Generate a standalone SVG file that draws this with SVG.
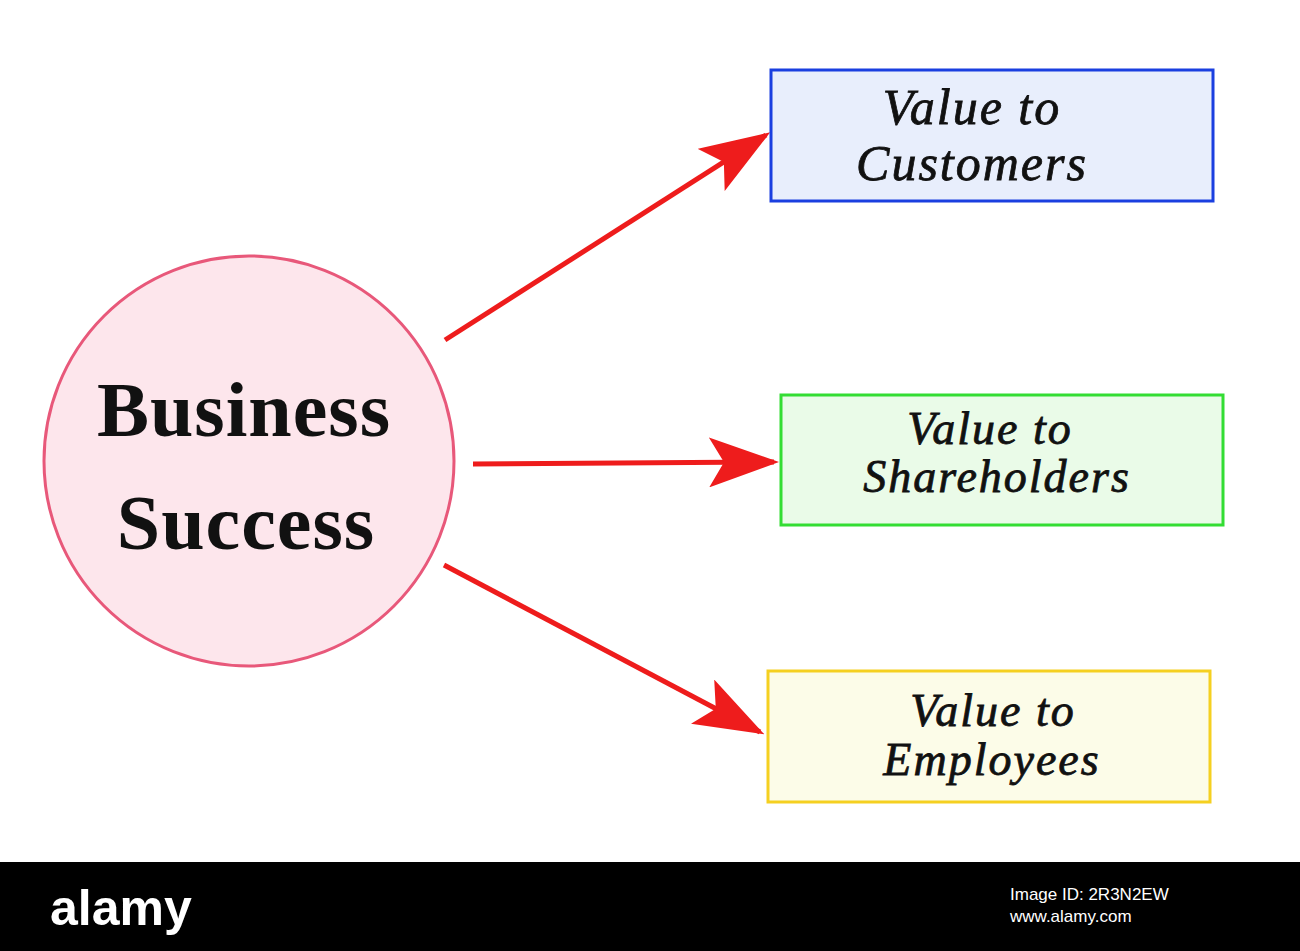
<svg xmlns="http://www.w3.org/2000/svg" width="1300" height="951" viewBox="0 0 1300 951">
<style>
.lbl{font-family:"Liberation Serif",serif;font-style:italic;font-size:50px;fill:#111;text-anchor:middle;letter-spacing:2px;stroke:#111;stroke-width:0.8}
.sm{font-size:46px}
.big{font-family:"Liberation Serif",serif;font-weight:bold;font-size:78px;fill:#111;text-anchor:middle;letter-spacing:1px}
.arr{stroke:#ee1c1c;stroke-width:5;fill:none;marker-end:url(#ah)}
</style>
<defs>
<marker id="ah" markerWidth="14" markerHeight="10" refX="13" refY="5" orient="auto" markerUnits="strokeWidth" viewBox="0 0 14 10">
<path d="M0,0 L14,5 L0,10 L3,5 Z" fill="#ee1c1c"/>
</marker>
</defs>
<rect width="1300" height="951" fill="#fff"/>
<g id="connectors">
<line class="arr" x1="445" y1="340" x2="766" y2="135"/>
<line class="arr" x1="473" y1="464" x2="774" y2="462"/>
<line class="arr" x1="444" y1="565" x2="760" y2="732"/>
</g>
<g id="business-success">
<circle cx="249" cy="461" r="205" fill="#fde6ec" stroke="#e8587a" stroke-width="3"/>
<text class="big" x="244" y="436">Business</text>
<text class="big" x="246" y="549">Success</text>
</g>
<g id="customers">
<rect x="771" y="70" width="442" height="131" fill="#e8eefc" stroke="#1a3fe0" stroke-width="3"/>
<text class="lbl" x="972" y="124">Value to</text>
<text class="lbl" x="972" y="180">Customers</text>
</g>
<g id="shareholders">
<rect x="781" y="395" width="442" height="130" fill="#eafbe8" stroke="#33dd33" stroke-width="3"/>
<text class="lbl sm" x="990" y="444">Value to</text>
<text class="lbl sm" x="997" y="492">Shareholders</text>
</g>
<g id="employees">
<rect x="768" y="671" width="442" height="131" fill="#fcfce8" stroke="#f5d020" stroke-width="3"/>
<text class="lbl sm" x="993" y="726">Value to</text>
<text class="lbl sm" x="992" y="775">Employees</text>
</g>
<g id="watermark">
<rect x="0" y="862" width="1300" height="89" fill="#000"/>
<text x="50" y="925" font-family="Liberation Sans,sans-serif" font-weight="bold" font-size="50" fill="#fff">alamy</text>
<text x="1010" y="900" font-family="Liberation Sans,sans-serif" font-size="17" fill="#fff">Image ID: 2R3N2EW</text>
<text x="1010" y="922" font-family="Liberation Sans,sans-serif" font-size="17" fill="#fff">www.alamy.com</text>
</g>
</svg>
